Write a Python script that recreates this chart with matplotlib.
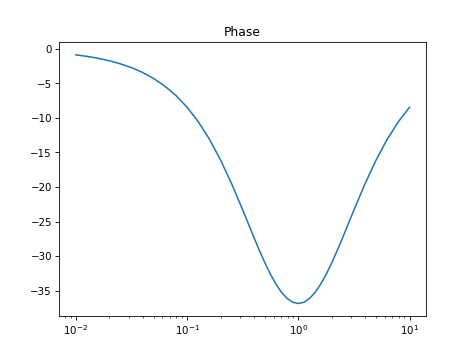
import matplotlib
matplotlib.use('Agg')
import matplotlib.pyplot as plt

# frequencies (log spaced, 10^-2 .. 10^1), denser around the dip
freq = [0.01, 0.012589, 0.015849, 0.019953, 0.025119, 0.031623, 0.039811,
        0.050119, 0.063096, 0.079433, 0.1, 0.12589, 0.15849, 0.19953,
        0.25119, 0.31623, 0.35481, 0.39811, 0.44668, 0.50119, 0.56234,
        0.63096, 0.70795, 0.79433, 0.89125, 1.0,
        1.12202, 1.2589, 1.41254, 1.5849, 1.77828, 1.9953, 2.23872,
        2.5119, 2.81838, 3.1623, 3.9811, 5.0119, 6.3096, 7.9433, 10.0]
# phase values
phase = [-0.86, -1.08, -1.36, -1.71, -2.16, -2.71, -3.41, -4.29, -5.39,
         -6.75, -8.45, -10.53, -13.06, -16.06, -19.52, -23.33, -25.30,
         -27.27, -29.19, -31.00, -32.65, -34.10, -35.28, -36.15, -36.69,
         -36.87,
         -36.69, -36.15, -35.28, -34.10, -32.65, -31.00, -29.19, -27.27,
         -25.30, -23.33, -19.52, -16.06, -13.06, -10.53, -8.45]

fig = plt.figure(figsize=(6.4, 4.8), dpi=74)
ax = fig.add_subplot(111)
ax.semilogx(freq, phase)
ax.set_title('Phase')

fig.savefig('out.png', dpi=74)
